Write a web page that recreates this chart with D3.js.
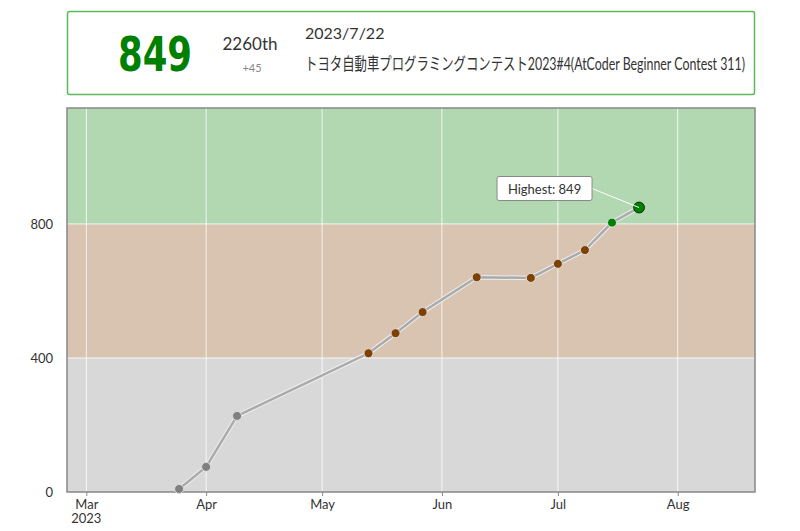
<!DOCTYPE html>
<html><head><meta charset="utf-8">
<script src="https://cdn.jsdelivr.net/npm/d3@7"></script>
<style>body{margin:0;background:#fff;font-family:Lato,"Noto Sans CJK JP",sans-serif}</style>
</head><body>
<svg id="c" width="800" height="531"></svg>
<script>
const dates = ['2023-03-25', '2023-04-01', '2023-04-09', '2023-05-13', '2023-05-20', '2023-05-27',
  '2023-06-10', '2023-06-24', '2023-07-01', '2023-07-08', '2023-07-15', '2023-07-22']
const ratings = [9, 75, 227, 414, 474, 537, 641, 639, 681, 722, 804, 849]
const bands = [
  { from: 0, to: 400, color: '#d8d8d8', dot: '#808080' },
  { from: 400, to: 800, color: '#d8c4b0', dot: '#804000' },
  { from: 800, to: 1200, color: '#b2d8b2', dot: '#008000' }
]
const yTicks = [0, 400, 800]
const monthTicks = ['2023-03-01', '2023-04-01', '2023-05-01', '2023-06-01', '2023-07-01', '2023-08-01']
const header = { rating: 849, rank: '2260th', diff: '+45', date: '2023/7/22',
  contest: 'トヨタ自動車プログラミングコンテスト2023#4(AtCoder Beginner Contest 311)' }

const parse = d3.timeParse('%Y-%m-%d')
const data = dates.map((d, i) => ({ date: parse(d), rating: ratings[i] }))
const svg = d3.select('#c')
const margin = { top: 108, right: 45, bottom: 39, left: 67 }
const innerWidth = 800 - margin.left - margin.right
const innerHeight = 531 - margin.top - margin.bottom

// header box
const h = svg.append('g')
h.append('rect').attr('x', 67.5).attr('y', 11.5).attr('width', 687).attr('height', 83)
  .attr('fill', '#fff').attr('stroke', '#5cb85c').attr('stroke-width', 1.5).attr('rx', 2)
h.append('text').attr('x', 155).attr('y', 71).attr('text-anchor', 'middle')
  .attr('font-family', 'DejaVu Sans Condensed').attr('font-weight', 'bold').attr('font-size', 48)
  .attr('fill', '#008000').attr('textLength', 74).attr('lengthAdjust', 'spacingAndGlyphs').text(header.rating)
h.append('text').attr('x', 250).attr('y', 50).attr('text-anchor', 'middle')
  .attr('font-size', 17).attr('fill', '#333').text(header.rank)
h.append('text').attr('x', 252).attr('y', 72).attr('text-anchor', 'middle')
  .attr('font-size', 11).attr('fill', '#888').text(header.diff)
h.append('text').attr('x', 305).attr('y', 39).attr('font-size', 16).attr('fill', '#333').text(header.date)
h.append('text').attr('x', 305).attr('y', 70).attr('font-size', 17).attr('fill', '#333')
  .attr('textLength', 440).attr('lengthAdjust', 'spacingAndGlyphs').text(header.contest)

const x = d3.scaleTime().domain([parse('2023-02-24'), parse('2023-08-21')]).range([0, innerWidth])
const y = d3.scaleLinear().domain([0, 1146]).range([innerHeight, 0])

const g = svg.append('g').attr('transform', 'translate(' + margin.left + ',' + margin.top + ')')
g.append('defs').append('clipPath').attr('id', 'clip')
  .append('rect').attr('width', innerWidth).attr('height', innerHeight)

g.append('g').attr('clip-path', 'url(#clip)').selectAll('rect').data(bands).enter().append('rect')
  .attr('x', 0).attr('width', innerWidth)
  .attr('y', d => y(d.to)).attr('height', d => y(d.from) - y(d.to))
  .attr('fill', d => d.color)

g.selectAll('.vgrid').data(monthTicks.map(parse)).enter().append('line')
  .attr('x1', d => x(d)).attr('x2', d => x(d)).attr('y1', 0).attr('y2', innerHeight)
  .attr('stroke', '#fff').attr('stroke-width', 1).attr('opacity', 0.8)
g.selectAll('.hgrid').data(yTicks.slice(1)).enter().append('line')
  .attr('x1', 0).attr('x2', innerWidth).attr('y1', d => y(d)).attr('y2', d => y(d))
  .attr('stroke', '#fff').attr('stroke-width', 1).attr('opacity', 0.8)

g.append('rect').attr('width', innerWidth).attr('height', innerHeight)
  .attr('fill', 'none').attr('stroke', '#888').attr('stroke-width', 1.5)

// y labels
g.selectAll('.ylab').data(yTicks).enter().append('text')
  .attr('x', -14).attr('y', d => y(d) + 5).attr('text-anchor', 'end')
  .attr('font-size', 13).attr('fill', '#333').text(d => d)

// x axis
const xa = g.append('g').attr('transform', 'translate(0,' + innerHeight + ')')
  .call(d3.axisBottom(x).tickValues(monthTicks.map(parse)).tickFormat(d3.timeFormat('%b')).tickSize(4).tickPadding(4))
xa.select('.domain').remove()
xa.selectAll('text').attr('font-size', 13).attr('fill', '#333').attr('font-family', 'Lato')
xa.selectAll('line').attr('stroke', '#888')
g.append('text').attr('x', x(parse(monthTicks[0]))).attr('y', innerHeight + 31)
  .attr('text-anchor', 'middle').attr('font-size', 13).attr('fill', '#333').text('2023')

const line = d3.line().x(d => x(d.date)).y(d => y(d.rating))
g.append('path').datum(data).attr('d', line).attr('fill', 'none').attr('stroke', '#eee').attr('stroke-width', 4.5)
g.append('path').datum(data).attr('d', line).attr('fill', 'none').attr('stroke', '#aaa').attr('stroke-width', 2.5)

const colorOf = r => bands.find(b => r >= b.from && r < b.to).dot
const last = data[data.length - 1]
g.selectAll('.dot').data(data).enter().append('circle')
  .attr('cx', d => x(d.date)).attr('cy', d => y(d.rating))
  .attr('r', d => d === last ? 5.5 : 4.5)
  .attr('fill', d => colorOf(d.rating))
  .attr('stroke', d => d === last ? '#000' : '#ddd').attr('stroke-width', d => d === last ? 0.7 : 1)

// highest tooltip
const bx = x(last.date) - 142
const by = y(last.rating) - 31
g.append('line').attr('x1', bx + 95).attr('y1', by + 12).attr('x2', x(last.date)).attr('y2', y(last.rating))
  .attr('stroke', '#fff').attr('stroke-width', 1)
g.append('rect').attr('x', bx).attr('y', by).attr('width', 95).attr('height', 24)
  .attr('fill', '#fff').attr('stroke', '#888').attr('rx', 2)
g.append('text').attr('x', bx + 47.5).attr('y', by + 17).attr('text-anchor', 'middle')
  .attr('font-size', 13).attr('fill', '#333').text('Highest: ' + last.rating)
</script>
</body></html>
